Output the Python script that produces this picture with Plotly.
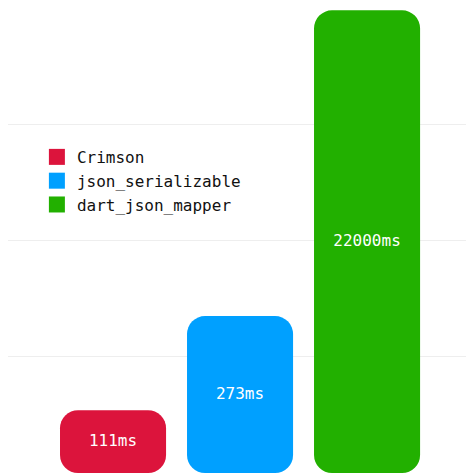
import plotly.graph_objects as go

# libraries compared in the benchmark
libraries = ["Crimson", "json_serializable", "dart_json_mapper"]
times_ms = [111, 273, 22000]
# drawn bar heights (the picture is not to scale), in gridline units
bar_heights = [0.54, 1.35, 3.98]
bar_colors = ["#dc143c", "#00a0ff", "#22b000"]

labels = [f"{t}ms" for t in times_ms]
mono = "DejaVu Sans Mono"

data = []

for lib, h, color in zip(libraries, bar_heights, bar_colors):
    # an explicit base makes plotly round both ends of the bar
    data.append(go.Bar(
        x=[lib], y=[h], base=[0],
        marker=dict(color=color, cornerradius=18, line=dict(width=0)),
        showlegend=False, hoverinfo="skip",
    ))
    # legend entry with a bigger square than the bar default
    data.append(go.Scatter(
        x=[None], y=[None], mode="markers", name=lib,
        marker=dict(symbol="square", size=16, color=color),
    ))

# value labels in the middle of each bar
data.append(go.Scatter(
    x=libraries,
    y=[h / 2 for h in bar_heights],
    text=labels,
    mode="text",
    textposition="middle center",
    textfont=dict(family=mono, size=16, color="white"),
    showlegend=False,
    hoverinfo="skip",
))

fig = go.Figure(data=data)

fig.update_layout(
    width=466,
    height=468,
    margin=dict(l=0, r=0, t=0, b=3),
    paper_bgcolor="white",
    plot_bgcolor="white",
    barmode="overlay",
    bargap=0.165,
    font=dict(family=mono, size=16, color="#111111"),
    xaxis=dict(
        range=[-0.827, 2.842],
        showticklabels=False,
        showgrid=False,
        zeroline=False,
        fixedrange=True,
    ),
    yaxis=dict(
        range=[0, 4],
        dtick=1,
        showticklabels=False,
        gridcolor="#eeeeee",
        gridwidth=1,
        zeroline=False,
        fixedrange=True,
    ),
    legend=dict(
        x=0.062,
        y=0.628,
        xanchor="left",
        yanchor="middle",
        bgcolor="rgba(0,0,0,0)",
        font=dict(family=mono, size=16, color="#111111"),
        tracegroupgap=0,
    ),
    showlegend=True,
)

fig.write_html("out.html")
